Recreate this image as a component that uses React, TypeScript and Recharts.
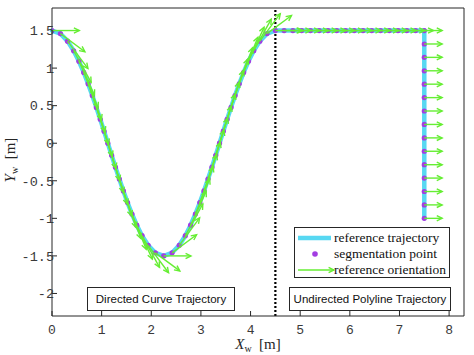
import React from 'react';
import { ComposedChart, Scatter, XAxis, YAxis, ReferenceLine } from 'recharts';

// --- Data ---

// segmentation points on the directed curve
const curveX = [0, 0.169, 0.313, 0.436, 0.542, 0.639, 0.728, 0.812, 0.893, 0.972, 1.049, 1.125,
    1.201, 1.278, 1.357, 1.438, 1.522, 1.611, 1.708, 1.814, 1.937, 2.081, 2.25,
    2.419, 2.563, 2.686, 2.792, 2.889, 2.978, 3.062, 3.143, 3.222, 3.299, 3.375,
    3.451, 3.528, 3.607, 3.688, 3.772, 3.861, 3.958, 4.064, 4.187, 4.331, 4.5];
const curveY = [1.5, 1.459, 1.359, 1.231, 1.091, 0.942, 0.79, 0.635, 0.477, 0.319, 0.16, 0,
    -0.16, -0.319, -0.477, -0.635, -0.79, -0.942, -1.091, -1.231, -1.359, -1.459, -1.5,
    -1.459, -1.359, -1.231, -1.091, -0.942, -0.79, -0.635, -0.477, -0.319, -0.16, 0,
    0.16, 0.319, 0.477, 0.635, 0.79, 0.942, 1.091, 1.231, 1.359, 1.459, 1.5];
// reference orientation (deg, data space) at each curve point
const curveHeading = [0, -26, -41.6, -50.1, -55.2, -58.5, -60.7, -62.2, -63.3, -64, -64.4, -64.5,
    -64.4, -64, -63.3, -62.2, -60.7, -58.5, -55.2, -50.1, -41.6, -26, 0,
    26, 41.6, 50.1, 55.2, 58.5, 60.7, 62.2, 63.3, 64, 64.4, 64.5,
    64.4, 64, 63.3, 62.2, 60.7, 58.5, 55.2, 50.1, 41.6, 26, 0];

// segmentation points on the undirected polyline
const polyX = [4.676, 4.853, 5.029, 5.206, 5.382, 5.559, 5.735, 5.912, 6.088, 6.265, 6.441, 6.618,
    6.794, 6.971, 7.147, 7.324, 7.5,
    7.5, 7.5, 7.5, 7.5, 7.5, 7.5, 7.5, 7.5, 7.5, 7.5, 7.5, 7.5, 7.5, 7.5];
const polyY = [1.5, 1.5, 1.5, 1.5, 1.5, 1.5, 1.5, 1.5, 1.5, 1.5, 1.5, 1.5, 1.5, 1.5, 1.5, 1.5, 1.5,
    1.321, 1.143, 0.964, 0.786, 0.607, 0.429, 0.25, 0.071, -0.107, -0.286, -0.464, -0.643, -0.821, -1.0];
const polyHeading = 0; // every polyline arrow points along +X

const xTicks = [0, 1, 2, 3, 4, 5, 6, 7, 8];
const yTicks = [-2, -1.5, -1, -0.5, 0, 0.5, 1, 1.5];
const splitX = 4.5;

// --- Styles ---
const CYAN = '#57d8f2';
const PURPLE = '#a33de2';
const GREEN = '#66ee33';
const AX = '#262626';

const curvePts = curveX.map((x, i) => ({ x, y: curveY[i], h: curveHeading[i], len: 0.55 }));
const polyPts = polyX.map((x, i) => ({ x, y: polyY[i], h: polyHeading, len: 0.36 }));
const trajPts = [...curvePts, ...polyPts];

const okNums = (vals: any[]) => vals.every(v => typeof v === 'number' && !isNaN(v));

const ArrowShape = (props: any) => {
    const { x1, y1, x2, y2 } = props;
    if (!okNums([x1, y1, x2, y2])) return <g />;
    const ang = Math.atan2(y2 - y1, x2 - x1);
    const hl = 6;
    const hw = 0.45;
    const ax = x2 - hl * Math.cos(ang - hw);
    const ay = y2 - hl * Math.sin(ang - hw);
    const bx = x2 - hl * Math.cos(ang + hw);
    const by = y2 - hl * Math.sin(ang + hw);
    return (
        <g>
            <line x1={x1} y1={y1} x2={x2} y2={y2} stroke={GREEN} strokeWidth={1.4} />
            <polyline points={`${ax},${ay} ${x2},${y2} ${bx},${by}`} fill="none" stroke={GREEN} strokeWidth={1.4} />
        </g>
    );
};

const TrajShape = (props: any) => {
    const { x1, y1, x2, y2 } = props;
    if (!okNums([x1, y1, x2, y2])) return <g />;
    return <line x1={x1} y1={y1} x2={x2} y2={y2} stroke={CYAN} strokeWidth={4.5} strokeLinecap="round" />;
};

const Dot = (props: any) => {
    const { cx, cy } = props;
    if (cx == null || cy == null) return <g />;
    return <circle cx={cx} cy={cy} r={2.6} fill={PURPLE} />;
};

const boxStyle: React.CSSProperties = {
    position: 'absolute',
    border: `1px solid ${AX}`,
    background: '#fff',
    boxSizing: 'border-box',
    display: 'flex',
    alignItems: 'center',
    justifyContent: 'center',
    fontFamily: '"Liberation Sans", Arial, sans-serif',
    fontSize: 11.5,
    color: '#111',
    whiteSpace: 'nowrap',
};

const legendRow: React.CSSProperties = {
    position: 'absolute',
    left: 39,
    fontFamily: '"Liberation Serif", "Times New Roman", serif',
    fontSize: 13.5,
    color: '#111',
    lineHeight: '16px',
    whiteSpace: 'nowrap',
};

const axisLabel: React.CSSProperties = {
    position: 'absolute',
    fontFamily: '"Liberation Serif", serif',
    fontSize: 15,
    lineHeight: '12px',
    color: AX,
    whiteSpace: 'nowrap',
};

const subW: React.CSSProperties = { fontSize: 10, position: 'relative', top: 3 };

export default function App() {
    return (
        <div style={{ position: 'absolute', left: 0, top: 0, width: 474, height: 355, background: '#fff' }}>
            <ComposedChart width={474} height={355} margin={{ top: 8, right: 10, bottom: 9, left: 8 }}>
                <XAxis
                    type="number" dataKey="x" domain={[0, 8.3]} ticks={xTicks} interval={0} allowDataOverflow
                    height={30} tickSize={-5} tickMargin={14}
                    axisLine={{ stroke: AX }} tickLine={{ stroke: AX }}
                    tick={{ fill: '#3a3a3a', fontSize: 13, fontFamily: '"Liberation Mono", monospace' }}
                />
                <YAxis
                    type="number" dataKey="y" domain={[-2.3, 1.8]} ticks={yTicks} interval={0} allowDataOverflow
                    width={44} tickSize={-5} tickMargin={3}
                    axisLine={{ stroke: AX }} tickLine={{ stroke: AX }}
                    tick={{ fill: '#3a3a3a', fontSize: 13.5, fontFamily: '"Liberation Mono", monospace' }}
                />
                <XAxis
                    xAxisId="top" orientation="top" type="number" domain={[0, 8.3]} ticks={xTicks} interval={0}
                    mirror tick={false} tickSize={5} axisLine={{ stroke: AX }} tickLine={{ stroke: AX }}
                />
                <YAxis
                    yAxisId="right" orientation="right" type="number" domain={[-2.3, 1.8]} ticks={yTicks} interval={0}
                    mirror tick={false} tickSize={5} axisLine={{ stroke: AX }} tickLine={{ stroke: AX }}
                />

                {/* reference trajectory */}
                {trajPts.slice(1).map((p, i) => (
                    <ReferenceLine
                        key={`traj-${i}`}
                        ifOverflow="visible"
                        segment={[{ x: trajPts[i].x, y: trajPts[i].y }, { x: p.x, y: p.y }]}
                        shape={TrajShape}
                    />
                ))}

                <ReferenceLine x={splitX} stroke="#000" strokeWidth={2.2} strokeDasharray="2 2" />

                {/* segmentation points */}
                <Scatter data={trajPts} shape={Dot} isAnimationActive={false} />

                {/* reference orientation */}
                {trajPts.map((p, i) => (
                    <ReferenceLine
                        key={`arr-${i}`}
                        ifOverflow="visible"
                        zIndex={1000}
                        segment={[
                            { x: p.x, y: p.y },
                            { x: p.x + p.len * Math.cos((p.h * Math.PI) / 180), y: p.y + p.len * Math.sin((p.h * Math.PI) / 180) },
                        ]}
                        shape={ArrowShape}
                    />
                ))}
            </ComposedChart>

            {/* axis labels */}
            <div style={{ ...axisLabel, left: 258, top: 345, transform: 'translate(-50%, -50%)' }}>
                <i>X</i><span style={subW}>w</span>&nbsp;&nbsp;[m]
            </div>
            <div style={{ ...axisLabel, left: 11, top: 160, transform: 'translate(-50%, -50%) rotate(-90deg)' }}>
                <i>Y</i><span style={subW}>w</span>&nbsp;&nbsp;[m]
            </div>

            {/* annotations */}
            <div style={{ ...boxStyle, left: 87, top: 287, width: 148, height: 24 }}>Directed Curve Trajectory</div>
            <div style={{ ...boxStyle, left: 289, top: 287, width: 162, height: 24 }}>Undirected Polyline Trajectory</div>

            {/* legend */}
            <div style={{ position: 'absolute', left: 294, top: 227, width: 156, height: 51, border: `1px solid ${AX}`, boxSizing: 'border-box', background: '#fff' }}>
                <svg width={40} height={49} style={{ position: 'absolute', left: 0, top: 0 }}>
                    <line x1={3} y1={10} x2={36} y2={10} stroke={CYAN} strokeWidth={4.5} />
                    <circle cx={20} cy={26} r={2.8} fill={PURPLE} />
                    <ArrowShape x1={3} y1={42} x2={39} y2={42} />
                </svg>
                <div style={{ ...legendRow, top: 2 }}>reference trajectory</div>
                <div style={{ ...legendRow, top: 18 }}>segmentation point</div>
                <div style={{ ...legendRow, top: 34 }}>reference orientation</div>
            </div>
        </div>
    );
}
